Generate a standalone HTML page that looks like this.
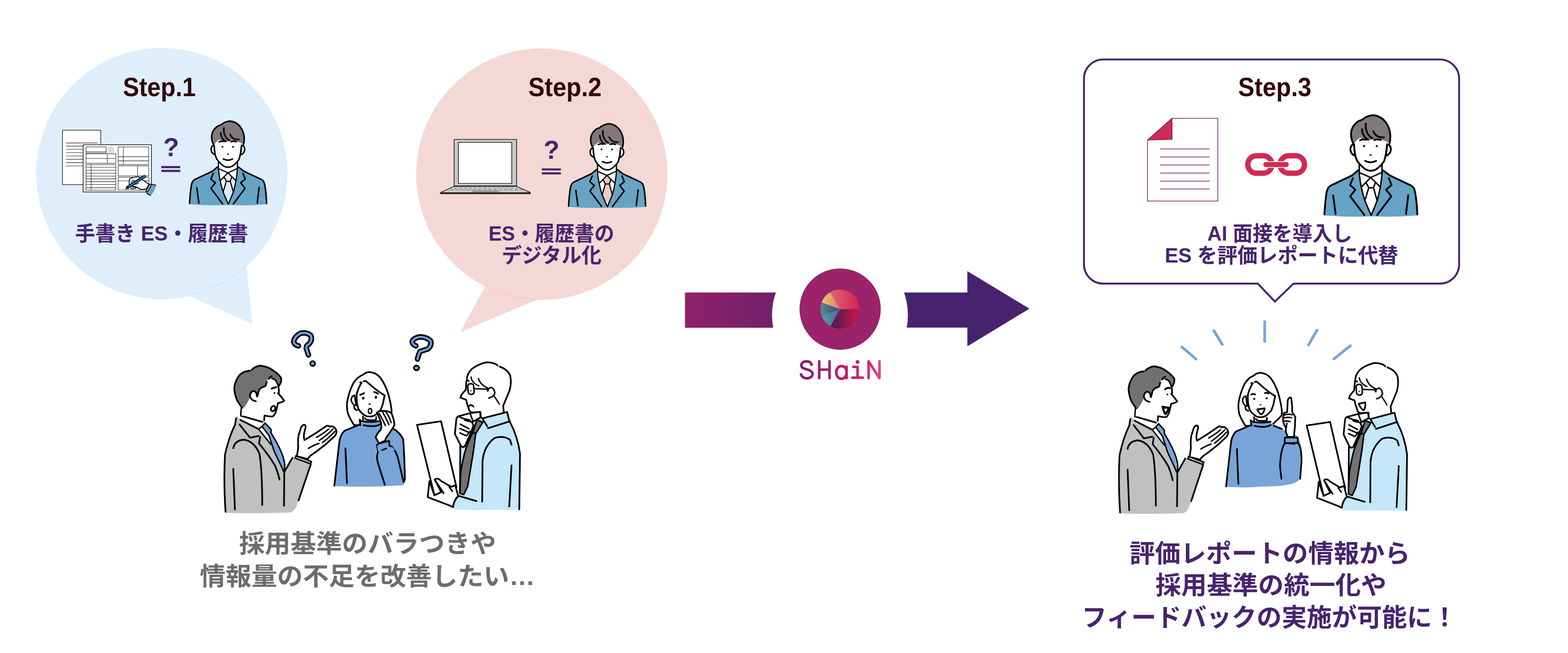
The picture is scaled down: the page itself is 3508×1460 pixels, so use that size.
<!DOCTYPE html><html><head><meta charset="utf-8"><title>SHaiN flow</title><style>html,body{margin:0;padding:0;background:#fff}svg{display:block}</style></head><body><svg width="3508" height="1460" viewBox="0 0 3508 1460"><defs><linearGradient id="gbar" x1="0" x2="1" y1="0" y2="0"><stop offset="0" stop-color="#90206a"/><stop offset="1" stop-color="#6f206b"/></linearGradient><linearGradient id="p1" gradientUnits="userSpaceOnUse" x1="1855" x2="1923" y1="0" y2="0"><stop offset="0" stop-color="#de6a74"/><stop offset="1" stop-color="#d22450"/></linearGradient><linearGradient id="p2" gradientUnits="userSpaceOnUse" x1="1838" x2="1880" y1="0" y2="0"><stop offset="0" stop-color="#efc566"/><stop offset="1" stop-color="#dd7a78"/></linearGradient><linearGradient id="p3" gradientUnits="userSpaceOnUse" x1="1836" x2="1880" y1="0" y2="0"><stop offset="0" stop-color="#5b8c84"/><stop offset="1" stop-color="#2a4790"/></linearGradient><linearGradient id="p4" gradientUnits="userSpaceOnUse" x1="1838" x2="1880" y1="0" y2="0"><stop offset="0" stop-color="#43aaa8"/><stop offset="1" stop-color="#61579a"/></linearGradient><linearGradient id="p5" gradientUnits="userSpaceOnUse" x1="1858" x2="1923" y1="0" y2="0"><stop offset="0" stop-color="#451c52"/><stop offset="1" stop-color="#cf144e"/></linearGradient><linearGradient id="gsh" gradientUnits="userSpaceOnUse" x1="1789" x2="1972" y1="0" y2="0"><stop offset="0" stop-color="#80206f"/><stop offset="0.45" stop-color="#b01f6e"/><stop offset="0.8" stop-color="#d81e6e"/><stop offset="1" stop-color="#df4a7c"/></linearGradient><g id="man" stroke-linecap="round" stroke-linejoin="round" stroke="#000" stroke-width="17" fill="none"><path d="M400,575 L385,582 L335,625 L130,722 Q100,745 92,790 Q78,880 72,1004 Q300,1022 512,1012 Q740,1022 952,1004 Q948,880 932,790 Q925,745 895,722 L690,625 L635,582 L620,575 Z" fill="#66a3c4" stroke="none"/><path d="M402,520 L618,520 L618,598 L598,760 L558,900 L515,1005 L470,900 L425,760 L402,598Z" fill="#fff" stroke="none"/><path d="M510,650 L470,700 L492,742 L455,865 L515,1003 L572,865 L537,742 L552,700Z" fill="var(--tie,#fff)" stroke="none"/><path d="M488,940 L515,1003 L545,930 Q515,960 488,940Z" fill="#fff" stroke="none"/><path d="M400,575 L385,582 L335,625 L130,722 M122,728 Q100,745 92,790 Q78,880 72,995"/><path d="M620,575 L635,582 L690,625 L895,722 M905,730 Q925,745 932,790 Q948,880 952,995"/><path d="M402,525 V600 M618,525 V598" stroke-width="14"/><path d="M402,598 Q410,720 455,865 L515,1003 M618,598 Q612,720 572,865 L515,1003" stroke-width="13.5"/><path d="M402,598 L510,645 L618,596 M510,645 L422,735 M510,645 L602,735" stroke-width="13.5"/><path d="M470,700 L492,742 H537 L552,700 M492,742 L455,865 M537,742 L572,865" stroke-width="13.5"/><path d="M342,652 L315,716 L366,760 L316,822 L450,1000 M682,652 L708,716 L656,760 L706,822 L572,1000"/><path d="M155,815 L178,990 M866,812 L845,990"/><path d="M352,334 Q322,330 318,380 Q322,425 362,438Z" fill="#fff"/><path d="M666,334 Q698,330 702,380 Q698,425 655,440Z" fill="#fff"/><path d="M352,250 L358,390 Q362,450 385,492 Q420,540 465,570 Q510,592 555,572 Q600,545 635,495 Q652,450 658,390 L666,250 Z" fill="#fff" stroke="none"/><path d="M352,330 L358,390 Q362,450 385,492 Q420,540 465,570 Q510,592 555,572 Q600,545 635,495 Q652,450 658,390 L666,330"/><path d="M348,330 Q322,280 324,225 Q330,160 385,118 Q405,105 428,100 Q470,62 530,55 Q600,58 650,118 Q690,170 696,240 Q698,290 688,322 Q665,305 620,290 Q580,278 540,280 Q510,290 480,290 Q440,285 412,268 Q385,280 365,308 Z" fill="#807879" stroke="none"/><path d="M348,330 Q322,280 324,225 Q330,160 385,118 Q405,105 420,103 M430,98 Q470,62 530,55 Q600,58 650,118 Q690,170 696,240 Q698,290 688,322"/><path d="M465,135 C455,190 480,250 528,275 M428,188 C430,230 450,270 488,287 M535,208 C555,250 590,270 636,265"/><path d="M410,292 Q440,280 468,288 M545,290 Q575,280 606,290"/><circle cx="448" cy="348" r="10" fill="#000" stroke="none"/><circle cx="568" cy="348" r="10" fill="#000" stroke="none"/><ellipse cx="510" cy="432" rx="11" ry="7" fill="#000" stroke="none"/><path d="M458,488 Q510,515 562,488"/></g></defs><circle cx="362" cy="388.2" r="281" fill="#deeefb"/>
<path d="M421,660.4 L550.8,593.6 L564.8,724.2Z" fill="#deeefb"/>
<circle cx="1212.2" cy="389.4" r="281" fill="#f4d8d5"/>
<path d="M1086.2,638.8 L1206.2,667.7 L1029.9,742.4Z" fill="#f4d8d5"/>
<path d="M421,660.4 A281,281 0 0 0 550.8,593.6" fill="none" stroke="#c3ddf0" stroke-width="1.3" opacity=".8"/>
<path d="M1086.2,638.8 A281,281 0 0 0 1206.2,669.5" fill="none" stroke="#f0bfc0" stroke-width="1.1" opacity=".8"/>
<path d="M2468.1,133 H3221.4 A43,43 0 0 1 3264.4,176 V591.1 A43,43 0 0 1 3221.4,634.1 H2894 L2852.2,674.2 L2814,634.1 H2468.1 A43,43 0 0 1 2425.1,591.1 V176 A43,43 0 0 1 2468.1,133Z" fill="#fff" stroke="#46216d" stroke-width="4.2" stroke-linejoin="miter"/>
<rect x="1532.5" y="654" width="215" height="78.8" fill="url(#gbar)"/>
<path d="M2015,653.9 H2164.2 V606.3 L2303.1,690.2 L2164.2,774.3 V732.6 H2015Z" fill="#47236f"/>
<circle cx="1879.2" cy="704.5" r="152" fill="#fff"/>
<circle cx="1879.6" cy="691.1" r="90.9" fill="#9b236a"/>
<path d="M1879.3,691.2 L1857.4,653.3 A43.8,43.8 0 0 1 1923.1,691.2Z" fill="url(#p1)"/>
<path d="M1879.3,691.2 L1838.1,676.4 A43.8,43.8 0 0 1 1857.4,653.3Z" fill="url(#p2)"/>
<path d="M1879.3,691.2 L1838.1,706.1 A43.8,43.8 0 0 1 1838.1,676.4Z" fill="url(#p3)"/>
<path d="M1879.3,691.2 L1858.2,729.6 A43.8,43.8 0 0 1 1838.1,706.1Z" fill="url(#p4)"/>
<path d="M1879.3,691.2 L1923.1,691.2 A43.8,43.8 0 0 1 1858.2,729.6Z" fill="url(#p5)"/>
<path d="M1815.8,815.4 C1814.1,810.3 1809.9,808.0 1804.8,808.0 C1797.3,808.0 1792.8,811.7 1792.8,816.8 C1792.8,822.0 1797.3,823.8 1804.8,825.7 C1813.2,827.8 1817.8,830.4 1817.8,836.0 C1817.8,842.0 1812.2,845.8 1804.8,845.8 C1798.2,845.8 1794.0,842.5 1792.0,837.1 M1832.8,808.0 L1832.8,845.3 M1855.9,808.0 L1855.9,845.3 M1832.8,826.4 L1855.9,826.4 M1894.0,832.7 a11.5,13.0 0 1 0 -22.9,0 a11.5,13.0 0 1 0 22.9,0M1894.0,819.9 L1894.0,845.5 M1909.3,820.3 L1918.6,820.3 L1918.6,844.4 M1906.9,844.4 L1930.2,844.4 M1943.3,845.3 L1943.3,808.0 L1967.6,845.3 L1967.6,808.0 " fill="none" stroke="url(#gsh)" stroke-width="5.8" stroke-linecap="round" stroke-linejoin="round"/>
<circle cx="1918.6" cy="809.4" r="4.3" fill="url(#gsh)"/>
<path d="M2644.1,775.8L2675.8,802.7M2715.7,739.1L2734.6,770.4M2829.4,719.2L2829.4,763.6M2946.4,738.3L2927.4,771.3M3021.1,773L2984.4,802.4" stroke="#76a4d6" stroke-width="6" stroke-linecap="round" fill="none"/>
<g fill="none" stroke="#222" stroke-width="1.1"><rect x="139.7" y="291.2" width="85.8" height="121.6" fill="#fff" stroke="#000" stroke-width="1.2"/><path d="M147.6,319.6H218.8M147.6,326.6H218.8M147.6,333.7H218.8M147.6,341.2H218.8M147.6,348.7H218.8M147.6,356.1H218.8M147.6,363.6H218.8M147.6,371H218.8"/><rect x="186" y="323.6" width="152.7" height="105.7" fill="#fff" stroke="#000" stroke-width="1.4"/><rect x="242.2" y="328" width="12.6" height="14.7" fill="#dcdcdc" stroke="none"/><rect x="192.4" y="328.5" width="45.1" height="13.4"/><path d="M192.4,339H237.5"/><rect x="192.4" y="343.9" width="66.7" height="21.2"/><path d="M192.4,354.2H259.1M240.1,343.9V365.1"/><rect x="192.4" y="368.1" width="66.7" height="57"/><path d="M203.9,368.1V425.1M192.4,374H259.1M192.4,380.7H259.1M192.4,387.2H259.1M192.4,393.7H259.1M192.4,399.9H259.1M192.4,406.1H259.1M192.4,412.5H259.1M192.4,419.6H259.1"/><rect x="264.3" y="328.5" width="68.4" height="39.3"/><path d="M276,328.5V367.8M264.3,350.4H332.7M264.3,359.6H332.7"/><rect x="264.3" y="370.7" width="68.4" height="22.7"/><path d="M307.9,370.7V393.4"/><rect x="264.3" y="396.4" width="69" height="28.7"/><path d="M264.3,404.2H333.3"/></g><g transform="translate(270,385) scale(0.05597)" stroke-linejoin="round" stroke-linecap="round" stroke="#000" stroke-width="33" fill="none"><path d="M345,470 Q335,350 352,290 Q365,250 400,238 L560,200 Q660,180 720,190 Q760,200 790,235 L850,290 L1130,480 L1020,672 Q900,700 800,690 Q760,670 720,640 Q660,615 620,610 L420,560 L370,540 Z" fill="#fff"/><path d="M405,600 Q395,660 440,672 Q490,668 495,620 M500,615 Q495,660 540,665 Q585,660 590,625 M590,620 Q600,650 615,628" fill="#fff" stroke-width="28"/><path d="M430,452 Q430,370 470,335 L545,330 Q560,345 540,370 L480,440" stroke-width="28"/><path d="M345,475 Q360,520 420,505 L600,478 Q690,470 725,430" stroke-width="28"/><path d="M372,540 L600,575 Q690,600 760,655" stroke-width="28"/><path d="M275,609 L945,172" stroke-width="118"/><path d="M285,606 L950,170" stroke="#0e7db9" stroke-width="62"/><path d="M190,680 L250,560 L335,660Z" fill="#000" stroke-width="8"/><path d="M215,660 L240,625" stroke="#fff" stroke-width="10"/><path d="M760,275 L785,315" stroke-width="14"/><path d="M1168,472 L1232,502 L1062,802 L1010,770Z" fill="#fff" stroke-width="34"/><path d="M1236,480 L1412,520 Q1400,650 1310,790 L1200,935 L1040,845 L1062,802 Z" fill="#62a3c6" stroke="none"/><path d="M1236,480 L1400,518 M1040,845 L1195,930 M1232,502 L1062,802" stroke-width="34"/></g>
<g stroke="#000" stroke-width="1.4" stroke-linejoin="round"><rect x="1016" y="311.6" width="139.8" height="104.1" fill="#c9c9c9"/><rect x="1025.5" y="318.4" width="119.4" height="91.7" fill="#fff"/><path d="M1016,416.6 H1155.8 L1186.4,430.3 V433 H985.7 V430.3Z" fill="#d9dada"/><path d="M1014,418.2 H1157.8 L1176,426.4 H996Z" fill="#a3a4a4" stroke="none"/><path d="M1060,423 H1112 L1117,429.6 H1055Z" fill="#9d9e9e" stroke="none"/><path d="M1012.0,419.6h5.8M1022.6,419.6h5.8M1033.1,419.6h5.8M1043.7,419.6h5.8M1054.3,419.6h5.8M1064.9,419.6h5.8M1075.4,419.6h5.8M1086.0,419.6h5.8M1096.6,419.6h5.8M1107.1,419.6h5.8M1117.7,419.6h5.8M1128.3,419.6h5.8M1138.9,419.6h5.8M1149.4,419.6h5.8M1010.0,421.8h6.2M1021.3,421.8h6.2M1032.6,421.8h6.2M1043.9,421.8h6.2M1055.1,421.8h6.2M1066.4,421.8h6.2M1077.7,421.8h6.2M1089.0,421.8h6.2M1100.3,421.8h6.2M1111.6,421.8h6.2M1122.9,421.8h6.2M1134.1,421.8h6.2M1145.4,421.8h6.2M1156.7,421.8h6.2M1002.0,424h6.6M1014.0,424h6.6M1026.0,424h6.6M1038.0,424h6.6M1050.0,424h6.6M1062.0,424h6.6M1074.0,424h6.6M1086.0,424h6.6M1098.0,424h6.6M1110.0,424h6.6M1122.0,424h6.6M1134.0,424h6.6M1146.0,424h6.6M1158.0,424h6.6" stroke="#dcdddd" stroke-width="1.5" fill="none"/><path d="M985.7,430.4 H1186.4 V433 H985.7Z" fill="#6f6f6f" stroke-width="1.3"/></g>
<g stroke="#6b1d6d" stroke-width="1.5" fill="none" stroke-linejoin="miter"><path d="M2622.2,264.4 H2724.5 V449.5 H2567.4 V313.2 Z" fill="#fff"/><path d="M2567.4,313.2 L2622.2,264.4 V311.6Z" fill="#d12a55"/><path d="M2595.2,332.9H2706M2595.2,351H2706M2595.2,368.8H2706M2595.2,386.9H2706M2595.2,405H2706M2595.2,422.4H2706"/></g><rect x="2791.6" y="348.3" width="54.1" height="39" rx="19.5" fill="none" stroke="#d12a52" stroke-width="11.9"/><rect x="2863.8" y="348.3" width="54.6" height="39" rx="19.5" fill="none" stroke="#d12a52" stroke-width="11.9"/><rect x="2825.6" y="361.4" width="58.5" height="13" rx="6.5" fill="#d12a52" stroke="#fff" stroke-width="1.6"/>
<use href="#man" transform="translate(410,260) scale(0.19589)" style="--tie:#d9ecfa"/>
<use href="#man" transform="translate(1258,265.9) scale(0.19589)" style="--tie:#f2c9c3"/>
<use href="#man" transform="translate(2946,244.5) scale(0.23624)" style="--tie:#fff"/>
<g stroke-linecap="round" stroke-linejoin="round"><g><path d="M530.3,929.4 L526.9,936.8 L525.8,950.2 Q512.4,976.0 503.4,1016.3 Q500.1,1076.7 503.9,1146.6 Q579.5,1148.8 650.1,1145.7 Q661.3,1141.6 666.9,1121.5 L697.1,1038.6 L655.7,1024.1 L636.6,1054.3 L606.4,993.9 L578.4,959.2 L538.1,939.0 Z" fill="#bfc0c0" stroke="none"/><path d="M535.9,926.7 L589.6,942.4 L593.4,945.7 L586.3,953.6 L578.4,959.2 L538.1,939.0 Z" fill="#fff" stroke="none"/><path d="M578.4,959.2 L586.3,953.6 L600.8,972.6 L606.4,993.9 Z" fill="#fff" stroke="none"/><path d="M593.0,945.7 L606.4,960.3 L606.4,968.1 Q618.7,987.2 628.8,1009.5 Q635.5,1025.2 636.9,1037.5 L636.6,1054.3 L634.4,1054.3 Q628.8,1040.9 624.3,1031.9 Q616.5,1016.3 612.0,1005.1 L601.9,973.7 L586.3,953.6 Z" fill="#78a5d8" stroke="#000" stroke-width="3.23"/><path d="M578.4,959.2 L586.3,953.6 M578.4,959.2 L606.4,993.9 " fill="none" stroke="#000" stroke-width="3.23"/><path d="M540.1,910.5 L538.7,929.4 L587.0,943.4 L591.2,939.9 L592.6,929.4 L607.9,931.5 L616.3,925.9 L621.9,900.7 L594.0,884.0 L556.2,897.9 Z" fill="#fff" stroke="none"/><path d="M528.1,935.2 L525.8,950.2 Q512.4,976.0 503.4,1016.3 Q500.1,1076.7 504.6,1144.3 " fill="none" stroke="#000" stroke-width="3.8"/><path d="M538.1,939.0 L578.4,959.2 " fill="none" stroke="#000" stroke-width="3.8"/><path d="M535.9,949.1 L559.4,978.7 L578.4,974.8 M581.8,977.1 L579.5,991.6 Q601.9,1018.5 615.4,1040.9 Q622.1,1056.6 625.4,1072.2 " fill="none" stroke="#000" stroke-width="3.8"/><path d="M636.0,1055.8 L635.4,1130.7 " fill="none" stroke="#000" stroke-width="3.8"/><path d="M636.0,1055.2 L654.5,1023.3 M695.5,1037.7 L667.9,1118.9 " fill="none" stroke="#000" stroke-width="3.8"/><path d="M521.9,1002.1 Q525.3,984.7 545.4,983.0 Q568.9,986.3 580.6,1014.9 Q586.7,1055.2 586.7,1129.0 " fill="none" stroke="#000" stroke-width="3.8"/><path d="M521.9,1048.4 L525.6,1139.1 " fill="none" stroke="#000" stroke-width="3.8"/><path d="M538.7,929.4 L587.0,943.4 " fill="none" stroke="#000" stroke-width="3.8"/><path d="M540.1,912.6 L538.7,929.4 M591.9,929.4 L590.9,939.9 " fill="none" stroke="#000" stroke-width="3.8"/><path d="M662.0,1019.1 L696.9,1032.1 L694.6,1036.8 L660.0,1024.3 Z" fill="#fff" stroke="#000" stroke-width="3.42"/><path d="M664.2,1020.1 L667.2,1000.5 Q665.9,984.9 668.1,973.1 L673.4,956.1 Q675.7,950.9 680.3,949.6 Q684.2,950.2 683.8,954.8 L680.3,969.2 Q679.0,978.3 681.2,983.8 L703.1,970.7 L730.8,952.2 Q734.5,950.6 737.7,954.2 Q743.6,951.5 747.5,955.5 Q752.1,959.4 752.1,962.6 Q754.7,967.9 748.2,975.7 L727.9,994.0 L711.0,1007.1 L697.9,1016.5 Q691.4,1020.1 688.8,1026.4 Z" fill="#fff" stroke="#000" stroke-width="3.8"/><path d="M708.1,977.7 Q721.4,970.7 735.1,959.4 M714.2,984.9 Q729.3,975.1 745.2,959.4 M721.4,989.4 Q735.8,979.0 749.1,964.6 M690.1,1002.5 Q703.1,994.6 713.6,991.4 " fill="none" stroke="#000" stroke-width="3.23"/><path d="M541.5,911.9 L546.4,911.2 L558.3,890.9 L568.8,872.8 L594.0,863.0 L597.4,849.7 L610.0,845.9 L620.5,854.6 L624.0,865.8 L624.0,878.4 L630.3,888.1 L635.9,895.8 L633.1,898.2 L621.9,901.4 L617.7,918.9 L614.2,928.0 L609.3,931.5 L591.9,929.4 L540.1,929.4 Z" fill="#fff" stroke="none"/><path d="M541.5,911.9 L531.0,896.5 Q524.7,882.6 524.0,867.2 Q526.1,850.4 536.6,837.8 Q546.4,829.4 559.0,828.7 L562.5,827.3 Q570.2,818.9 582.8,817.5 Q599.5,819.6 610.7,828.0 Q623.3,836.4 628.9,844.8 Q631.0,853.2 624.0,863.0 Q621.2,851.8 615.6,848.3 Q610.0,845.1 603.0,847.6 L597.4,849.7 Q596.1,858.8 594.0,863.0 Q582.8,865.8 578.6,875.6 L575.8,885.6 Q574.4,878.4 568.8,874.2 Q561.8,874.9 559.0,886.7 Q558.3,890.9 554.8,897.9 L546.4,911.2 Z" fill="#717171" stroke="none"/><path d="M541.5,911.9 L531.0,896.5 Q524.7,882.6 524.0,867.2 Q526.1,850.4 536.6,837.8 Q546.4,829.4 558.3,829.0 M562.5,827.6 Q570.2,818.9 582.8,817.5 Q599.5,819.6 610.7,828.0 Q623.3,836.4 628.9,844.8 Q631.0,853.2 624.0,863.0 " fill="none" stroke="#000" stroke-width="3.8"/><path d="M601.6,846.9 Q603.0,842.7 607.9,841.0 M597.0,853.9 Q595.4,857.4 594.7,861.6 Q592.6,864.6 588.4,865.1 Q580.0,868.6 578.6,875.6 L575.5,886.5 " fill="none" stroke="#000" stroke-width="3.8"/><path d="M608.6,846.2 Q616.3,846.9 619.8,856.0 L622.6,862.3 " fill="none" stroke="#000" stroke-width="3.42"/><path d="M574.6,885.6 Q575.1,876.3 567.4,873.9 Q559.7,876.3 559.0,885.4 Q561.1,895.1 572.3,897.2 " fill="#fff" stroke="#000" stroke-width="3.8"/><path d="M621.9,861.6 Q624.0,865.8 624.0,878.4 L621.9,879.1 Q630.3,888.1 635.6,895.8 Q635.2,897.9 621.9,901.4 L617.7,918.9 Q614.9,927.3 610.7,930.8 Q607.9,932.2 591.9,929.0 " fill="none" stroke="#000" stroke-width="3.8"/><path d="M607.9,868.8 L617.7,865.5 " fill="none" stroke="#000" stroke-width="4.18"/><ellipse cx="614.2" cy="878.6" rx="1.7" ry="2.2" fill="#000"/><ellipse cx="611.0" cy="913.6" rx="4.6" ry="6.2" transform="rotate(25 611.0 913.6)" fill="#fff" stroke="#000" stroke-width="3.8"/></g><g><path d="M792.6,950.6 Q784.8,940.2 778.3,924.5 Q774.4,908.8 777.6,893.1 Q782.2,872.2 791.3,855.3 Q800.5,842.2 811.6,838.3 Q817.5,832.4 826.6,831.8 Q841.0,833.1 850.1,843.5 Q861.9,859.2 868.4,880.1 Q874.9,903.6 876.2,919.3 L874.9,928.4 L851.4,950.6 Z" fill="#fff" stroke="#000" stroke-width="3.8"/><path d="M805.7,948.8 L770.5,963.3 Q760.3,973.4 758.9,990.8 L747.9,1086.7 Q816.7,1090.5 903.4,1084.7 L904.9,1002.3 Q903.4,979.2 897.6,973.4 L880.3,961.3 L854.3,950.3 L852.8,940.2 L805.7,939.3 Z" fill="#78a5d8" stroke="none"/><path d="M812.2,929.7 L812.2,938.2 L817.5,939.5 L838.4,939.9 L841.6,938.2 L841.6,931.0 Z" fill="#fff" stroke="none"/><path d="M809.0,855.3 Q799.2,872.2 797.9,882.7 Q797.2,901.0 801.8,914.0 Q807.0,923.2 817.5,929.7 Q825.3,932.6 834.4,930.4 Q842.3,927.7 851.4,916.6 Q857.3,903.6 858.6,893.1 L860.6,884.0 Q848.8,877.5 833.1,864.4 L817.5,851.3 Z" fill="#fff" stroke="none"/><path d="M809.0,855.3 Q799.2,872.2 797.9,882.7 Q797.2,901.0 801.8,914.0 Q807.0,923.2 817.5,929.7 Q825.3,932.6 834.4,930.4 Q842.3,927.7 851.4,916.6 Q857.3,903.6 858.6,893.1 L860.6,884.0 " fill="none" stroke="#000" stroke-width="3.8"/><path d="M813.8,852.6 Q816.8,850.7 819.4,852.6 L833.1,864.4 Q848.8,877.5 860.6,884.0 " fill="none" stroke="#000" stroke-width="3.8"/><path d="M809.0,855.3 L806.0,855.0 " fill="none" stroke="#000" stroke-width="3.8"/><path d="M794.2,906.8 Q788.1,903.6 785.5,894.4 Q786.8,884.6 793.3,884.0 L796.6,906.2 Z" fill="#fff" stroke="#000" stroke-width="3.42"/><path d="M792.0,908.8 Q792.0,916.0 799.2,917.3 " fill="none" stroke="#000" stroke-width="3.42"/><circle cx="796.8" cy="912.5" r="1.6" fill="#78a5d8"/><path d="M812.2,931.0 L812.2,938.2 M841.6,932.3 L841.6,938.2 M816.2,934.9 Q817.5,938.8 827.9,939.5 Q838.4,939.9 841.6,938.2 " fill="none" stroke="#000" stroke-width="3.42"/><path d="M804.4,938.2 L808.3,941.5 Q821.4,943.8 833.1,943.4 Q843.6,942.8 850.1,941.5 M804.4,938.2 L806.4,950.6 M813.5,950.6 Q825.3,953.9 838.4,952.6 Q846.2,951.3 850.4,948.6 " fill="none" stroke="#000" stroke-width="3.8"/><path d="M805.7,948.8 L770.5,963.3 Q760.3,973.4 758.9,990.8 L747.9,1086.1 " fill="none" stroke="#000" stroke-width="3.8"/><path d="M772.8,1002.3 L776.2,1080.3 " fill="none" stroke="#000" stroke-width="3.8"/><path d="M805.7,882.9 L814.6,879.0 M837.1,876.4 Q842.3,877.5 845.5,880.3 " fill="none" stroke="#000" stroke-width="3.8"/><ellipse cx="812.6" cy="890.3" rx="2.6" ry="3.1" fill="#000"/><ellipse cx="841.0" cy="888.2" rx="2.6" ry="3.3" fill="#000"/><ellipse cx="826.9" cy="903.6" rx="2.7" ry="1.6" fill="#000"/><ellipse cx="827.9" cy="919.0" rx="3.7" ry="5.6" fill="#fff" stroke="#000" stroke-width="3.42"/><path d="M880.6,958.8 Q894.6,967.2 902.1,982.1 Q904.9,1021.3 905.8,1071.6 L903.0,1078.2 L890.9,1026.9 Q887.2,1010.1 876.0,997.9 " fill="none" stroke="#000" stroke-width="3.8"/><path d="M843.3,995.1 L846.1,1010.1 Q841.5,1019.4 845.2,1034.3 L861.0,1083.8 " fill="none" stroke="#000" stroke-width="3.8"/><path d="M848.0,991.4 L840.5,978.4 Q841.5,971.8 851.7,960.6 Q855.4,952.2 849.9,937.3 L843.3,922.4 Q848.0,917.7 860.1,918.7 Q872.2,919.6 876.0,924.3 Q881.6,937.3 882.5,950.4 L876.0,961.6 L862.9,980.2 L862.0,984.9 Z" fill="#fff" stroke="#000" stroke-width="3.8"/><path d="M848.0,924.3 Q857.3,940.1 862.0,951.3 M855.4,920.5 Q865.7,938.2 870.0,949.4 M863.3,920.5 Q872.2,934.5 875.0,944.8 " fill="none" stroke="#000" stroke-width="3.23"/><path d="M843.3,995.1 L848.0,991.4 L870.4,985.8 L871.3,997.0 L876.0,997.9 L884.4,1006.3 L846.1,1010.1 Z" fill="#78a5d8" stroke="none"/><path d="M843.3,995.1 L848.0,991.4 L870.4,985.8 L871.3,997.0 L876.0,997.9 " fill="none" stroke="#000" stroke-width="3.8"/><path d="M854.5,1006.3 L864.8,1002.6 " fill="none" stroke="#000" stroke-width="3.42"/></g><g><path d="M1078.8,935.0 L1134.1,922.9 L1141.0,943.7 Q1158.3,976.5 1163.4,1014.4 L1162.4,1139.4 Q1085.7,1142.2 1013.2,1135.3 L1020.1,1111.1 L1030.5,1106.0 L1029.8,997.2 L1034.0,993.7 L1058.1,962.7 Z" fill="#c6e6fa" stroke="none"/><path d="M1127.2,922.1 L1125.7,907.2 L1139.9,873.6 Q1145.1,855.7 1141.3,839.3 Q1135.4,824.3 1120.4,819.9 L1113.0,817.6 Q1105.5,810.1 1087.6,810.1 Q1066.7,815.4 1054.8,825.8 Q1043.6,837.8 1043.6,851.2 L1042.1,871.3 L1032.4,882.5 L1030.1,889.3 L1042.8,893.7 L1045.1,903.4 L1050.3,918.4 L1054.8,922.1 L1074.9,921.3 L1075.7,933.3 L1080.1,935.5 Z" fill="#fff" stroke="none"/><path d="M1127.2,922.1 L1125.7,907.2 L1139.9,873.6 Q1145.1,855.7 1141.3,839.3 Q1135.4,825.8 1118.2,819.9 M1113.3,817.6 Q1107.0,810.1 1087.6,810.1 Q1066.7,815.4 1054.8,825.8 Q1043.6,837.8 1044.6,849.7 L1048.5,851.9 M1043.6,851.2 L1042.1,871.3 L1032.4,882.5 L1030.1,889.3 L1042.8,893.7 L1045.1,903.4 L1050.3,918.4 L1054.8,922.1 L1074.9,921.3 L1075.7,933.3 " fill="none" stroke="#000" stroke-width="3.8"/><path d="M1078.7,935.5 L1130.9,922.1 L1134.6,921.3 L1139.9,943.0 " fill="none" stroke="#000" stroke-width="3.8"/><path d="M1091.6,957.5 L1141.0,941.9 " fill="none" stroke="#000" stroke-width="3.8"/><path d="M1054.0,843.0 Q1054.8,855.7 1071.2,862.7 M1070.4,846.0 Q1074.2,860.1 1091.3,867.9 M1105.5,885.5 Q1111.5,894.5 1117.2,903.7 " fill="none" stroke="#000" stroke-width="3.04"/><path d="M1091.3,874.3 Q1092.1,866.9 1099.6,866.1 Q1107.0,870.6 1107.0,879.6 Q1102.5,888.5 1093.6,890.0 " fill="none" stroke="#000" stroke-width="3.42"/><rect x="1046.9" y="857.9" width="13.4" height="24" rx="6" fill="none" stroke="#000" stroke-width="3.42" transform="rotate(-5 1053.6 869.9)"/><path d="M1060.7,869.1 L1089.1,870.1 L1091.3,873.9 " fill="none" stroke="#000" stroke-width="3.04"/><circle cx="1053.3" cy="873.6" r="1.5" fill="#000"/><path d="M1049.1,908.2 Q1053.3,902.7 1059.3,909.0 " fill="none" stroke="#000" stroke-width="3.8"/><path d="M1141.0,943.7 Q1158.3,976.5 1163.4,1014.4 L1161.7,1138.8 " fill="none" stroke="#000" stroke-width="3.8"/><path d="M1078.8,1121.5 L1079.5,1031.7 Q1082.3,997.2 1106.5,979.2 Q1127.2,973.0 1141.0,983.4 L1144.4,994.4 " fill="none" stroke="#000" stroke-width="3.8"/><path d="M1144.4,1040.3 L1139.3,1132.5 " fill="none" stroke="#000" stroke-width="3.8"/><path d="M1029.8,997.2 L1029.1,1102.5 " fill="none" stroke="#000" stroke-width="3.8"/><path d="M1057.7,966.9 L1064.3,969.6 Q1061.8,988.5 1059.8,1004.9 L1046.4,1087.0 L1037.6,1105.8 L1029.0,1103.4 Q1029.4,1074.7 1031.0,1054.1 Q1036.2,1023.4 1041.7,1004.9 Q1049.5,982.3 1057.7,966.9 Z" fill="#717171" stroke="#000" stroke-width="3.42"/><path d="M1066.9,938.8 L1080.3,943.8 L1064.3,969.6 L1057.7,966.9 Z" fill="#717171" stroke="#000" stroke-width="3.42"/><path d="M1078.8,935.0 L1089.9,953.0 " fill="none" stroke="#000" stroke-width="3.8"/><path d="M933.0,949.8 L986.7,941.8 L1021.2,1089.1 L971.9,1107.4 Z" fill="#fff" stroke="#000" stroke-width="3.8"/><path d="M960.7,1075.7 L956.9,1111.5 L1004.6,1129.8 L1014.0,1133.9 Q1015.1,1118.2 1025.2,1109.2 L1018.5,1085.1 L1009.5,1088.4 L987.2,1075.7 Q978.7,1066.7 972.8,1072.3 L987.2,1100.3 L971.9,1107.4 Z" fill="#fff" stroke="#000" stroke-width="3.8"/><path d="M972.8,1072.3 L992.8,1103.0 M1005.1,1089.1 L1012.2,1098.5 " fill="none" stroke="#000" stroke-width="3.42"/><path d="M1014.0,1135.0 Q1015.1,1118.2 1026.3,1108.8 L1066.0,1120.4 L1076.7,1135.0 Z" fill="#c6e6fa" stroke="none"/><path d="M1013.6,1133.9 Q1015.1,1118.2 1026.3,1108.8 L1066.0,1120.4 " fill="none" stroke="#000" stroke-width="3.8"/><path d="M1015.1,1133.9 L1076.7,1133.9 L1076.7,1140.6 L1015.1,1139.5 Z" fill="#c6e6fa" stroke="none"/><path d="M1028.0,930.0 Q1021.2,931.0 1020.8,939.2 L1017.7,970.0 L1031.0,996.7 Q1035.1,1001.2 1039.7,998.3 L1051.6,972.1 L1059.3,951.6 L1056.1,943.8 L1075.1,933.5 L1074.1,920.8 L1051.6,923.9 Z" fill="#fff" stroke="#000" stroke-width="3.8"/><path d="M1030.0,948.5 L1049.5,958.7 M1029.0,958.1 L1047.9,966.3 M1029.0,968.0 L1043.8,974.5 L1051.6,964.3 M1051.6,923.9 L1058.1,941.7 M1028.0,932.1 L1056.1,943.8 " fill="none" stroke="#000" stroke-width="3.42"/><path d="M1041.3,938.4 L1049.9,940.5 " fill="none" stroke="#000" stroke-width="6.46"/></g><path d="M667.7,773.3 Q660.0,771.9 657.2,764.9 Q657.2,753.8 671.9,745.4 Q685.9,741.9 695.0,749.6 Q699.9,759.3 691.5,769.1 Q683.8,773.3 685.6,780.3 Q688.7,788.7 690.1,793.6 " fill="none" stroke="#000" stroke-width="12.2"/><path d="M667.7,773.3 Q660.0,771.9 657.2,764.9 Q657.2,753.8 671.9,745.4 Q685.9,741.9 695.0,749.6 Q699.9,759.3 691.5,769.1 Q683.8,773.3 685.6,780.3 Q688.7,788.7 690.1,793.6 " fill="none" stroke="#6fa0d8" stroke-width="4.8"/><path d="M930.4,773.3 Q922.8,770.5 922.1,764.2 Q924.9,755.2 940.2,753.1 Q955.6,753.8 963.3,762.1 Q966.8,771.9 957.0,780.3 Q945.8,783.8 939.5,785.9 Q936.0,794.3 933.9,802.7 " fill="none" stroke="#000" stroke-width="12.2"/><path d="M930.4,773.3 Q922.8,770.5 922.1,764.2 Q924.9,755.2 940.2,753.1 Q955.6,753.8 963.3,762.1 Q966.8,771.9 957.0,780.3 Q945.8,783.8 939.5,785.9 Q936.0,794.3 933.9,802.7 " fill="none" stroke="#6fa0d8" stroke-width="4.8"/><ellipse cx="699.5" cy="812.9" rx="5.4" ry="5.4" fill="#6fa0d8" stroke="#000" stroke-width="3.7"/><ellipse cx="931.8" cy="822.6" rx="5.8" ry="5.3" fill="#6fa0d8" stroke="#000" stroke-width="3.7"/><g transform="matrix(0.9746,0,0,1,2014.1,1.5)"><path d="M530.3,929.4 L526.9,936.8 L525.8,950.2 Q512.4,976.0 503.4,1016.3 Q500.1,1076.7 503.9,1146.6 Q579.5,1148.8 650.1,1145.7 Q661.3,1141.6 666.9,1121.5 L697.1,1038.6 L655.7,1024.1 L636.6,1054.3 L606.4,993.9 L578.4,959.2 L538.1,939.0 Z" fill="#bfc0c0" stroke="none"/><path d="M535.9,926.7 L589.6,942.4 L593.4,945.7 L586.3,953.6 L578.4,959.2 L538.1,939.0 Z" fill="#fff" stroke="none"/><path d="M578.4,959.2 L586.3,953.6 L600.8,972.6 L606.4,993.9 Z" fill="#fff" stroke="none"/><path d="M593.0,945.7 L606.4,960.3 L606.4,968.1 Q618.7,987.2 628.8,1009.5 Q635.5,1025.2 636.9,1037.5 L636.6,1054.3 L634.4,1054.3 Q628.8,1040.9 624.3,1031.9 Q616.5,1016.3 612.0,1005.1 L601.9,973.7 L586.3,953.6 Z" fill="#78a5d8" stroke="#000" stroke-width="3.23"/><path d="M578.4,959.2 L586.3,953.6 M578.4,959.2 L606.4,993.9 " fill="none" stroke="#000" stroke-width="3.23"/><path d="M540.1,910.5 L538.7,929.4 L587.0,943.4 L591.2,939.9 L592.6,929.4 L607.9,931.5 L616.3,925.9 L621.9,900.7 L594.0,884.0 L556.2,897.9 Z" fill="#fff" stroke="none"/><path d="M528.1,935.2 L525.8,950.2 Q512.4,976.0 503.4,1016.3 Q500.1,1076.7 504.6,1144.3 " fill="none" stroke="#000" stroke-width="3.8"/><path d="M538.1,939.0 L578.4,959.2 " fill="none" stroke="#000" stroke-width="3.8"/><path d="M535.9,949.1 L559.4,978.7 L578.4,974.8 M581.8,977.1 L579.5,991.6 Q601.9,1018.5 615.4,1040.9 Q622.1,1056.6 625.4,1072.2 " fill="none" stroke="#000" stroke-width="3.8"/><path d="M636.0,1055.8 L635.4,1130.7 " fill="none" stroke="#000" stroke-width="3.8"/><path d="M636.0,1055.2 L654.5,1023.3 M695.5,1037.7 L667.9,1118.9 " fill="none" stroke="#000" stroke-width="3.8"/><path d="M521.9,1002.1 Q525.3,984.7 545.4,983.0 Q568.9,986.3 580.6,1014.9 Q586.7,1055.2 586.7,1129.0 " fill="none" stroke="#000" stroke-width="3.8"/><path d="M521.9,1048.4 L525.6,1139.1 " fill="none" stroke="#000" stroke-width="3.8"/><path d="M538.7,929.4 L587.0,943.4 " fill="none" stroke="#000" stroke-width="3.8"/><path d="M540.1,912.6 L538.7,929.4 M591.9,929.4 L590.9,939.9 " fill="none" stroke="#000" stroke-width="3.8"/><path d="M662.0,1019.1 L696.9,1032.1 L694.6,1036.8 L660.0,1024.3 Z" fill="#fff" stroke="#000" stroke-width="3.42"/><path d="M664.2,1020.1 L667.2,1000.5 Q665.9,984.9 668.1,973.1 L673.4,956.1 Q675.7,950.9 680.3,949.6 Q684.2,950.2 683.8,954.8 L680.3,969.2 Q679.0,978.3 681.2,983.8 L703.1,970.7 L730.8,952.2 Q734.5,950.6 737.7,954.2 Q743.6,951.5 747.5,955.5 Q752.1,959.4 752.1,962.6 Q754.7,967.9 748.2,975.7 L727.9,994.0 L711.0,1007.1 L697.9,1016.5 Q691.4,1020.1 688.8,1026.4 Z" fill="#fff" stroke="#000" stroke-width="3.8"/><path d="M708.1,977.7 Q721.4,970.7 735.1,959.4 M714.2,984.9 Q729.3,975.1 745.2,959.4 M721.4,989.4 Q735.8,979.0 749.1,964.6 M690.1,1002.5 Q703.1,994.6 713.6,991.4 " fill="none" stroke="#000" stroke-width="3.23"/><path d="M541.5,911.9 L546.4,911.2 L558.3,890.9 L568.8,872.8 L594.0,863.0 L597.4,849.7 L610.0,845.9 L620.5,854.6 L624.0,865.8 L624.0,878.4 L630.3,888.1 L635.9,895.8 L633.1,898.2 L621.9,901.4 L617.7,918.9 L614.2,928.0 L609.3,931.5 L591.9,929.4 L540.1,929.4 Z" fill="#fff" stroke="none"/><path d="M541.5,911.9 L531.0,896.5 Q524.7,882.6 524.0,867.2 Q526.1,850.4 536.6,837.8 Q546.4,829.4 559.0,828.7 L562.5,827.3 Q570.2,818.9 582.8,817.5 Q599.5,819.6 610.7,828.0 Q623.3,836.4 628.9,844.8 Q631.0,853.2 624.0,863.0 Q621.2,851.8 615.6,848.3 Q610.0,845.1 603.0,847.6 L597.4,849.7 Q596.1,858.8 594.0,863.0 Q582.8,865.8 578.6,875.6 L575.8,885.6 Q574.4,878.4 568.8,874.2 Q561.8,874.9 559.0,886.7 Q558.3,890.9 554.8,897.9 L546.4,911.2 Z" fill="#717171" stroke="none"/><path d="M541.5,911.9 L531.0,896.5 Q524.7,882.6 524.0,867.2 Q526.1,850.4 536.6,837.8 Q546.4,829.4 558.3,829.0 M562.5,827.6 Q570.2,818.9 582.8,817.5 Q599.5,819.6 610.7,828.0 Q623.3,836.4 628.9,844.8 Q631.0,853.2 624.0,863.0 " fill="none" stroke="#000" stroke-width="3.8"/><path d="M601.6,846.9 Q603.0,842.7 607.9,841.0 M597.0,853.9 Q595.4,857.4 594.7,861.6 Q592.6,864.6 588.4,865.1 Q580.0,868.6 578.6,875.6 L575.5,886.5 " fill="none" stroke="#000" stroke-width="3.8"/><path d="M608.6,846.2 Q616.3,846.9 619.8,856.0 L622.6,862.3 " fill="none" stroke="#000" stroke-width="3.42"/><path d="M574.6,885.6 Q575.1,876.3 567.4,873.9 Q559.7,876.3 559.0,885.4 Q561.1,895.1 572.3,897.2 " fill="#fff" stroke="#000" stroke-width="3.8"/><path d="M621.9,861.6 Q624.0,865.8 624.0,878.4 L621.9,879.1 Q630.3,888.1 635.6,895.8 Q635.2,897.9 621.9,901.4 L617.7,918.9 Q614.9,927.3 610.7,930.8 Q607.9,932.2 591.9,929.0 " fill="none" stroke="#000" stroke-width="3.8"/><path d="M607.9,868.8 Q613.5,864.1 619.1,866.5 " fill="none" stroke="#000" stroke-width="4.18"/><circle cx="613.3" cy="880.5" r="1.9" fill="#000"/><path d="M601.6,907.7 L617.0,909.8 Q614.9,918.9 608.6,924.8 Q605.1,921.7 601.6,907.7 Z" fill="#000" stroke="#000" stroke-width="3.8"/><path d="M605.8,911.9 L613.5,912.6 L609.1,920.6 Z" fill="#fff" stroke="none"/><path d="M792.6,950.6 Q784.8,940.2 778.3,924.5 Q774.4,908.8 777.6,893.1 Q782.2,872.2 791.3,855.3 Q800.5,842.2 811.6,838.3 Q817.5,832.4 826.6,831.8 Q841.0,833.1 850.1,843.5 Q861.9,859.2 868.4,880.1 Q874.9,903.6 876.2,919.3 L874.9,928.4 L851.4,950.6 Z" fill="#fff" stroke="#000" stroke-width="3.8"/><path d="M805.7,948.8 L770.5,963.3 Q760.3,973.4 758.9,990.8 L747.9,1086.7 Q787.8,1089.6 825.4,1086.7 Q874.5,1086.1 891.8,1081.8 Q906.3,1079.8 915.5,1071.7 L921.3,1013.9 Q921.3,985.0 910.6,972.8 L874.5,957.5 L851.4,944.5 L847.1,938.7 L805.7,939.3 Z" fill="#78a5d8" stroke="none"/><path d="M812.2,929.7 L812.2,938.2 L817.5,939.5 L838.4,939.9 L841.6,938.2 L841.6,931.0 Z" fill="#fff" stroke="none"/><path d="M809.0,855.3 Q799.2,872.2 797.9,882.7 Q797.2,901.0 801.8,914.0 Q807.0,923.2 817.5,929.7 Q825.3,932.6 834.4,930.4 Q842.3,927.7 851.4,916.6 Q857.3,903.6 858.6,893.1 L860.6,884.0 Q848.8,877.5 833.1,864.4 L817.5,851.3 Z" fill="#fff" stroke="none"/><path d="M809.0,855.3 Q799.2,872.2 797.9,882.7 Q797.2,901.0 801.8,914.0 Q807.0,923.2 817.5,929.7 Q825.3,932.6 834.4,930.4 Q842.3,927.7 851.4,916.6 Q857.3,903.6 858.6,893.1 L860.6,884.0 " fill="none" stroke="#000" stroke-width="3.8"/><path d="M813.8,852.6 Q816.8,850.7 819.4,852.6 L833.1,864.4 Q848.8,877.5 860.6,884.0 " fill="none" stroke="#000" stroke-width="3.8"/><path d="M809.0,855.3 L806.0,855.0 " fill="none" stroke="#000" stroke-width="3.8"/><path d="M794.2,906.8 Q788.1,903.6 785.5,894.4 Q786.8,884.6 793.3,884.0 L796.6,906.2 Z" fill="#fff" stroke="#000" stroke-width="3.42"/><path d="M792.0,908.8 Q792.0,916.0 799.2,917.3 " fill="none" stroke="#000" stroke-width="3.42"/><circle cx="796.8" cy="912.5" r="1.6" fill="#78a5d8"/><path d="M812.2,931.0 L812.2,938.2 M841.6,932.3 L841.6,938.2 M816.2,934.9 Q817.5,938.8 827.9,939.5 Q838.4,939.9 841.6,938.2 " fill="none" stroke="#000" stroke-width="3.42"/><path d="M804.4,938.2 L808.3,941.5 Q821.4,943.8 833.1,943.4 Q843.6,942.8 850.1,941.5 M804.4,938.2 L806.4,950.6 M813.5,950.6 Q825.3,953.9 838.4,952.6 Q846.2,951.3 850.4,948.6 " fill="none" stroke="#000" stroke-width="3.8"/><path d="M805.7,948.8 L770.5,963.3 Q760.3,973.4 758.9,990.8 L747.9,1086.1 " fill="none" stroke="#000" stroke-width="3.8"/><path d="M772.8,1002.3 L776.2,1080.3 " fill="none" stroke="#000" stroke-width="3.8"/><path d="M805.7,880.7 Q810.3,878.1 814.6,880.3 M837.1,877.5 Q841.6,875.5 845.5,878.5 " fill="none" stroke="#000" stroke-width="3.8"/><circle cx="812.6" cy="890.3" r="2.4" fill="#000"/><circle cx="841.0" cy="889.0" r="2.4" fill="#000"/><ellipse cx="826.9" cy="903.6" rx="2.3" ry="1.3" fill="#000"/><path d="M819.4,914.0 L836.4,911.4 Q835.7,919.3 829.9,924.5 Q825.3,925.8 819.4,914.0 Z" fill="#fff" stroke="#000" stroke-width="3.8"/><path d="M876.0,957.5 L857.2,950.3 " fill="none" stroke="#000" stroke-width="3.8"/><path d="M882.7,989.7 Q873.8,1001.5 871.6,1040.2 L874.9,1069.1 M912.4,988.7 Q921.2,997.3 921.2,1029.4 L917.9,1069.1 " fill="none" stroke="#000" stroke-width="3.8"/><path d="M882.7,976.9 L912.4,976.9 L912.4,988.7 L882.7,989.7 Z" fill="#78a5d8" stroke="#000" stroke-width="3.8"/><path d="M892.6,989.7 L904.7,991.2 " fill="none" stroke="#000" stroke-width="3.42"/><path d="M889.3,975.4 L884.9,962.9 Q886.0,954.3 882.7,950.0 Q876.0,941.5 880.5,922.1 L888.2,920.0 L889.3,894.3 Q891.5,885.7 897.0,887.8 Q899.8,898.5 899.8,920.0 L906.9,930.7 L905.8,954.3 L903.6,975.4 Z" fill="#fff" stroke="#000" stroke-width="3.8"/><path d="M881.6,926.4 Q891.5,923.2 899.2,926.0 M880.5,932.9 Q890.4,930.7 898.1,932.4 M880.5,940.4 Q888.2,939.3 894.8,941.0 M887.5,944.7 L886.2,954.3 " fill="none" stroke="#000" stroke-width="3.23"/><path d="M1078.8,935.0 L1134.1,922.9 L1141.0,943.7 Q1158.3,976.5 1163.4,1014.4 L1162.4,1139.4 Q1085.7,1142.2 1013.2,1135.3 L1020.1,1111.1 L1030.5,1106.0 L1029.8,997.2 L1034.0,993.7 L1058.1,962.7 Z" fill="#c6e6fa" stroke="none"/><path d="M1127.2,922.1 L1125.7,907.2 L1139.9,873.6 Q1145.1,855.7 1141.3,839.3 Q1135.4,824.3 1120.4,819.9 L1113.0,817.6 Q1105.5,810.1 1087.6,810.1 Q1066.7,815.4 1054.8,825.8 Q1043.6,837.8 1043.6,851.2 L1042.1,871.3 L1032.4,882.5 L1030.1,889.3 L1042.8,893.7 L1045.1,903.4 L1050.3,918.4 L1054.8,922.1 L1074.9,921.3 L1075.7,933.3 L1080.1,935.5 Z" fill="#fff" stroke="none"/><path d="M1127.2,922.1 L1125.7,907.2 L1139.9,873.6 Q1145.1,855.7 1141.3,839.3 Q1135.4,825.8 1118.2,819.9 M1113.3,817.6 Q1107.0,810.1 1087.6,810.1 Q1066.7,815.4 1054.8,825.8 Q1043.6,837.8 1044.6,849.7 L1048.5,851.9 M1043.6,851.2 L1042.1,871.3 L1032.4,882.5 L1030.1,889.3 L1042.8,893.7 L1045.1,903.4 L1050.3,918.4 L1054.8,922.1 L1074.9,921.3 L1075.7,933.3 " fill="none" stroke="#000" stroke-width="3.8"/><path d="M1078.7,935.5 L1130.9,922.1 L1134.6,921.3 L1139.9,943.0 " fill="none" stroke="#000" stroke-width="3.8"/><path d="M1091.6,957.5 L1141.0,941.9 " fill="none" stroke="#000" stroke-width="3.8"/><path d="M1054.0,843.0 Q1054.8,855.7 1071.2,862.7 M1070.4,846.0 Q1074.2,860.1 1091.3,867.9 M1105.5,885.5 Q1111.5,894.5 1117.2,903.7 " fill="none" stroke="#000" stroke-width="3.04"/><path d="M1091.3,874.3 Q1092.1,866.9 1099.6,866.1 Q1107.0,870.6 1107.0,879.6 Q1102.5,888.5 1093.6,890.0 " fill="none" stroke="#000" stroke-width="3.42"/><rect x="1046.9" y="857.9" width="13.4" height="24" rx="6" fill="none" stroke="#000" stroke-width="3.42" transform="rotate(-5 1053.6 869.9)"/><path d="M1060.7,869.1 L1089.1,870.1 L1091.3,873.9 " fill="none" stroke="#000" stroke-width="3.04"/><circle cx="1053.3" cy="873.6" r="1.5" fill="#000"/><path d="M1052.5,901.2 L1067.5,898.2 Q1068.5,909.4 1064.0,915.7 Q1057.8,913.9 1052.5,901.2 Z" fill="#fff" stroke="#000" stroke-width="3.8"/><path d="M1141.0,943.7 Q1158.3,976.5 1163.4,1014.4 L1161.7,1138.8 " fill="none" stroke="#000" stroke-width="3.8"/><path d="M1078.8,1121.5 L1079.5,1031.7 Q1082.3,997.2 1106.5,979.2 Q1127.2,973.0 1141.0,983.4 L1144.4,994.4 " fill="none" stroke="#000" stroke-width="3.8"/><path d="M1144.4,1040.3 L1139.3,1132.5 " fill="none" stroke="#000" stroke-width="3.8"/><path d="M1029.8,997.2 L1029.1,1102.5 " fill="none" stroke="#000" stroke-width="3.8"/><path d="M1057.7,966.9 L1064.3,969.6 Q1061.8,988.5 1059.8,1004.9 L1046.4,1087.0 L1037.6,1105.8 L1029.0,1103.4 Q1029.4,1074.7 1031.0,1054.1 Q1036.2,1023.4 1041.7,1004.9 Q1049.5,982.3 1057.7,966.9 Z" fill="#717171" stroke="#000" stroke-width="3.42"/><path d="M1066.9,938.8 L1080.3,943.8 L1064.3,969.6 L1057.7,966.9 Z" fill="#717171" stroke="#000" stroke-width="3.42"/><path d="M1078.8,935.0 L1089.9,953.0 " fill="none" stroke="#000" stroke-width="3.8"/><path d="M933.0,949.8 L986.7,941.8 L1021.2,1089.1 L971.9,1107.4 Z" fill="#fff" stroke="#000" stroke-width="3.8"/><path d="M960.7,1075.7 L956.9,1111.5 L1004.6,1129.8 L1014.0,1133.9 Q1015.1,1118.2 1025.2,1109.2 L1018.5,1085.1 L1009.5,1088.4 L987.2,1075.7 Q978.7,1066.7 972.8,1072.3 L987.2,1100.3 L971.9,1107.4 Z" fill="#fff" stroke="#000" stroke-width="3.8"/><path d="M972.8,1072.3 L992.8,1103.0 M1005.1,1089.1 L1012.2,1098.5 " fill="none" stroke="#000" stroke-width="3.42"/><path d="M1014.0,1135.0 Q1015.1,1118.2 1026.3,1108.8 L1066.0,1120.4 L1076.7,1135.0 Z" fill="#c6e6fa" stroke="none"/><path d="M1013.6,1133.9 Q1015.1,1118.2 1026.3,1108.8 L1066.0,1120.4 " fill="none" stroke="#000" stroke-width="3.8"/><path d="M1015.1,1133.9 L1076.7,1133.9 L1076.7,1140.6 L1015.1,1139.5 Z" fill="#c6e6fa" stroke="none"/><path d="M1028.0,930.0 Q1021.2,931.0 1020.8,939.2 L1017.7,970.0 L1031.0,996.7 Q1035.1,1001.2 1039.7,998.3 L1051.6,972.1 L1059.3,951.6 L1056.1,943.8 L1075.1,933.5 L1074.1,920.8 L1051.6,923.9 Z" fill="#fff" stroke="#000" stroke-width="3.8"/><path d="M1030.0,948.5 L1049.5,958.7 M1029.0,958.1 L1047.9,966.3 M1029.0,968.0 L1043.8,974.5 L1051.6,964.3 M1051.6,923.9 L1058.1,941.7 M1028.0,932.1 L1056.1,943.8 " fill="none" stroke="#000" stroke-width="3.42"/><path d="M1041.3,938.4 L1049.9,940.5 " fill="none" stroke="#000" stroke-width="6.46"/></g></g>
<g font-family="'Liberation Sans', 'Noto Sans CJK JP', sans-serif" font-weight="bold" text-anchor="middle">
<g fill="#320608" font-size="60">
<text x="356.5" y="214.8" textLength="163" lengthAdjust="spacingAndGlyphs">Step.1</text>
<text x="1264" y="214.8" textLength="164" lengthAdjust="spacingAndGlyphs">Step.2</text>
<text x="2852" y="214.8" textLength="164" lengthAdjust="spacingAndGlyphs">Step.3</text>
</g>
<g fill="#47236f">
<text x="383" y="349.3" font-size="58">?</text>
<text x="1234" y="354.5" font-size="58">?</text>
<path d="M360.9,371.2h42.4v4.7h-42.4zM360.9,379.8h42.4v4.7h-42.4zM1212.1,376.4h42.7v4.7h-42.7zM1212.1,385.2h42.7v4.7h-42.7z"/>
<g font-size="46">
<text x="361.5" y="538.4" textLength="387" lengthAdjust="spacingAndGlyphs">手書き ES・履歴書</text>
<text x="1233.5" y="538.4" textLength="281" lengthAdjust="spacingAndGlyphs">ES・履歴書の</text>
<text x="1234" y="587" textLength="223" lengthAdjust="spacingAndGlyphs">デジタル化</text>
<text x="2863" y="538.2" textLength="324" lengthAdjust="spacingAndGlyphs">AI 面接を導入し</text>
<text x="2867" y="586.9" textLength="522" lengthAdjust="spacingAndGlyphs">ES を評価レポートに代替</text>
</g>
<g font-size="56">
<text x="2841" y="1257" textLength="628" lengthAdjust="spacingAndGlyphs">評価レポートの情報から</text>
<text x="2843.5" y="1328" textLength="517" lengthAdjust="spacingAndGlyphs">採用基準の統一化や</text>
<text x="2840" y="1399.5" textLength="840" lengthAdjust="spacingAndGlyphs">フィードバックの実施が可能に！</text>
</g>
</g>
<g fill="#6c6c6c" font-size="56">
<text x="822.5" y="1235" textLength="575" lengthAdjust="spacingAndGlyphs">採用基準のバラつきや</text>
<text x="822" y="1308" textLength="750" lengthAdjust="spacingAndGlyphs">情報量の不足を改善したい…</text>
</g>
</g>
</svg></body></html>
